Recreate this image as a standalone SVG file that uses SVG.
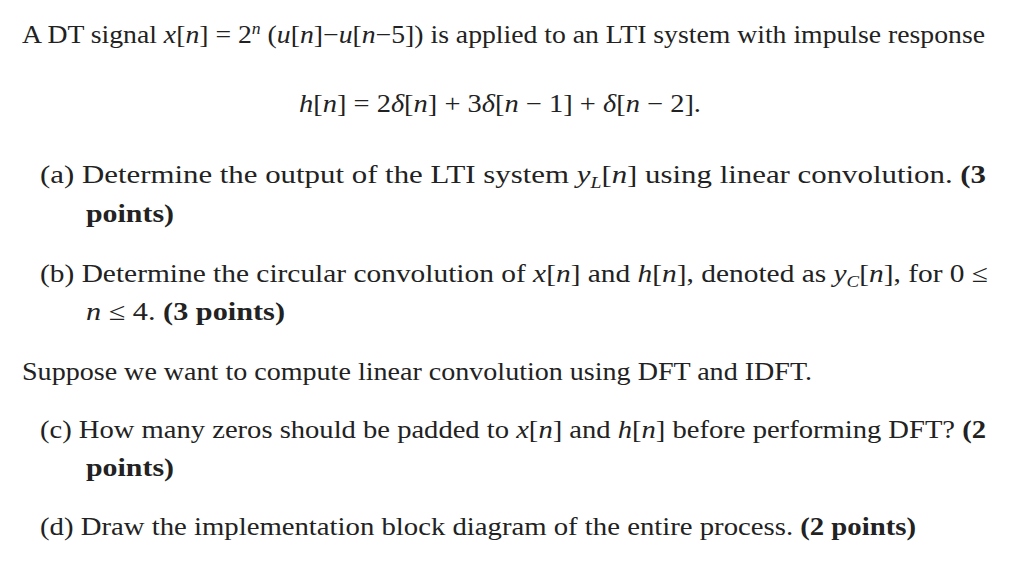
<svg xmlns="http://www.w3.org/2000/svg" width="1024" height="575" viewBox="0 0 1024 575">
<style>
text{font-family:"Liberation Serif","Times New Roman",serif;font-size:25px;fill:#222}
.i{font-style:italic}
.b{font-weight:bold}
</style>
<rect width="1024" height="575" fill="#fff"/>
<g id="text">
<text x="22" y="43" textLength="963" lengthAdjust="spacingAndGlyphs">A DT signal <tspan class="i">x</tspan>[<tspan class="i">n</tspan>] = 2<tspan class="i" font-size="16" dy="-9">n</tspan><tspan dy="9"> (</tspan><tspan class="i">u</tspan>[<tspan class="i">n</tspan>]−<tspan class="i">u</tspan>[<tspan class="i">n</tspan>−5]) is applied to an LTI system with impulse response</text>
<text x="299" y="112" textLength="402" lengthAdjust="spacingAndGlyphs"><tspan class="i">h</tspan>[<tspan class="i">n</tspan>] = 2<tspan class="i">δ</tspan>[<tspan class="i">n</tspan>] + 3<tspan class="i">δ</tspan>[<tspan class="i">n</tspan> − 1] + <tspan class="i">δ</tspan>[<tspan class="i">n</tspan> − 2].</text>
<text x="40" y="183" textLength="946" lengthAdjust="spacingAndGlyphs">(a) Determine the output of the LTI system <tspan class="i">y</tspan><tspan class="i" font-size="16" dy="5">L</tspan><tspan dy="-5">[</tspan><tspan class="i">n</tspan>] using linear convolution.  <tspan class="b">(3</tspan></text>
<text x="86" y="222" class="b" textLength="88" lengthAdjust="spacingAndGlyphs">points)</text>
<text x="40" y="282" textLength="948" lengthAdjust="spacingAndGlyphs">(b) Determine the circular convolution of <tspan class="i">x</tspan>[<tspan class="i">n</tspan>] and <tspan class="i">h</tspan>[<tspan class="i">n</tspan>], denoted as <tspan class="i">y</tspan><tspan class="i" font-size="16" dy="5">C</tspan><tspan dy="-5">[</tspan><tspan class="i">n</tspan>], for 0 ≤</text>
<text x="86" y="320" textLength="199" lengthAdjust="spacingAndGlyphs"><tspan class="i">n</tspan> ≤ 4. <tspan class="b">(3 points)</tspan></text>
<text x="22" y="380" textLength="790" lengthAdjust="spacingAndGlyphs">Suppose we want to compute linear convolution using DFT and IDFT.</text>
<text x="40" y="438" textLength="946" lengthAdjust="spacingAndGlyphs">(c) How many zeros should be padded to <tspan class="i">x</tspan>[<tspan class="i">n</tspan>] and <tspan class="i">h</tspan>[<tspan class="i">n</tspan>] before performing DFT? <tspan class="b">(2</tspan></text>
<text x="86" y="476" class="b" textLength="88" lengthAdjust="spacingAndGlyphs">points)</text>
<text x="40" y="535" textLength="876" lengthAdjust="spacingAndGlyphs">(d) Draw the implementation block diagram of the entire process. <tspan class="b">(2 points)</tspan></text>
</g>
</svg>
